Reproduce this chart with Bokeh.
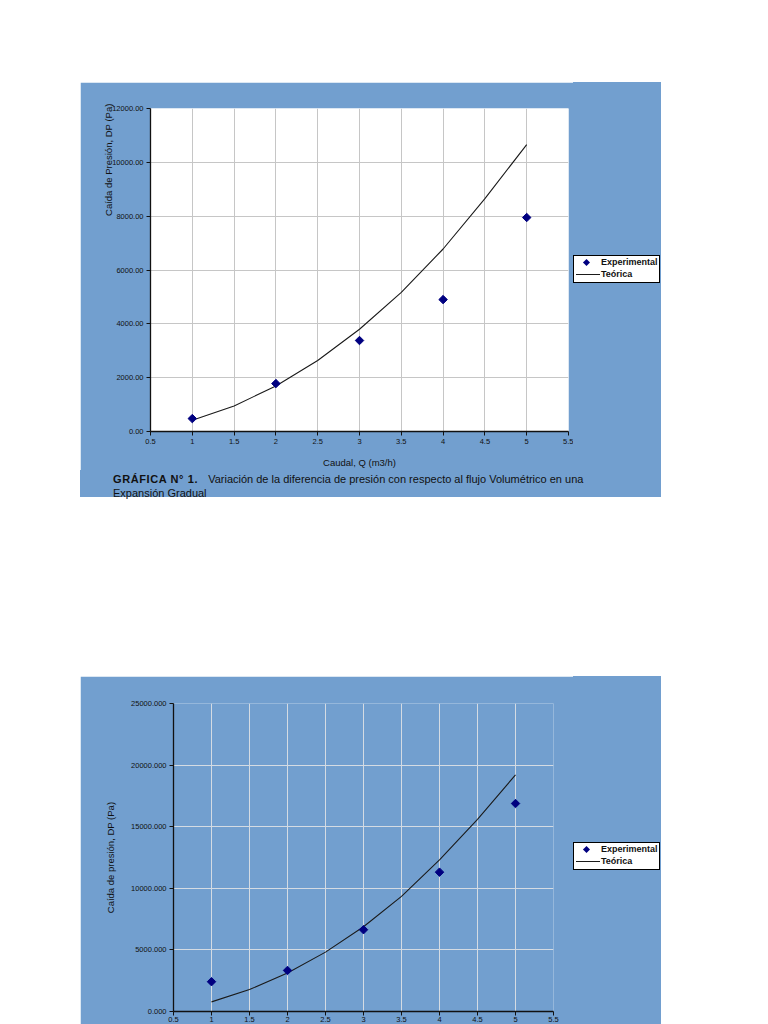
import numpy as np
from bokeh.plotting import figure
from bokeh.models import Range1d, Spacer, Title, Div
from bokeh.layouts import column, row
from bokeh.embed import file_html
from bokeh.resources import INLINE

# ---------------- data ----------------
q_exp = [1, 2, 3, 4, 5]
q_theo = [1, 1.5, 2, 2.5, 3, 3.5, 4, 4.5, 5]

dp_exp_1 = [480, 1780, 3380, 4900, 7950]
dp_theo_1 = [420, 950, 1690, 2640, 3800, 5170, 6780, 8650, 10660]

dp_exp_2 = [2420, 3330, 6640, 11310, 16880]
dp_theo_2 = [780, 1780, 3120, 4820, 6880, 9350, 12300, 15600, 19200]

x_ticks = [0.5, 1, 1.5, 2, 2.5, 3, 3.5, 4, 4.5, 5, 5.5]
x_tick_labels = ["0.5", "1", "1.5", "2", "2.5", "3", "3.5", "4", "4.5", "5", "5.5"]

y_ticks_1 = [0, 2000, 4000, 6000, 8000, 10000, 12000]
y_tick_labels_1 = ["0.00", "2000.00", "4000.00", "6000.00", "8000.00", "10000.00", "12000.00"]

y_ticks_2 = [0, 5000, 10000, 15000, 20000, 25000]
y_tick_labels_2 = ["0.000", "5000.000", "10000.000", "15000.000", "20000.000", "25000.000"]

series_names = ["Experimental", "Teórica"]

BLUE = "#729fcf"
FONT = "Liberation Sans"
MARK = "#000080"
LINE = "#1a1a1a"


def make_chart(dp_exp, dp_theo, y_ticks, y_labels, ymax, frame_bg, grid_color,
               width, height, bl, br, bt, bb):
    p = figure(width=width, height=height, output_backend="svg", toolbar_location=None,
               x_range=Range1d(0.5, 5.5), y_range=Range1d(0, ymax),
               min_border_left=bl, min_border_right=br, min_border_top=bt, min_border_bottom=bb)
    p.border_fill_color = BLUE
    p.background_fill_color = frame_bg
    p.outline_line_color = None

    p.xaxis.ticker = x_ticks
    p.xaxis.major_label_overrides = {t: l for t, l in zip(x_ticks, x_tick_labels)}
    p.yaxis.ticker = y_ticks
    p.yaxis.major_label_overrides = {t: l for t, l in zip(y_ticks, y_labels)}
    for ax in (p.xaxis, p.yaxis):
        ax.axis_line_color = "#111111"
        ax.axis_line_width = 1.3
        ax.major_tick_line_color = "#111111"
        ax.major_tick_out = 4
        ax.major_tick_in = 0
        ax.minor_tick_line_color = None
        ax.major_label_text_font = FONT
        ax.major_label_text_font_size = "7.5px"
        ax.major_label_text_color = "#111111"
        ax.major_label_standoff = 3
        ax.axis_label_text_font = FONT
        ax.axis_label_text_font_style = "normal"
        ax.axis_label_text_color = "#111111"
    p.xgrid.grid_line_color = grid_color
    p.ygrid.grid_line_color = grid_color

    p.line(q_theo, dp_theo, line_color=LINE, line_width=1.1)
    p.scatter(q_exp, dp_exp, marker="square", angle=np.pi / 4, size=6,
              fill_color=MARK, line_color=MARK)
    return p


def legend_panel(height, box_top):
    html = (
        f"<div style=\"padding-top:{box_top}px; margin:0;\">"
        "<div style=\"position:relative; margin:0; width:87px; height:28px; "
        "box-sizing:border-box; border:1px solid #000; background:#fff; "
        "font-family:'Liberation Sans'; font-size:9px; font-weight:bold; color:#111; line-height:11px;\">"
        f"<span style=\"position:absolute; left:10px; top:4px; width:5px; height:5px; "
        f"background:{MARK}; transform:rotate(45deg);\"></span>"
        f"<span style=\"position:absolute; left:27px; top:1px; white-space:nowrap;\">{series_names[0]}</span>"
        f"<span style=\"position:absolute; left:2px; top:18px; width:24px; height:0; "
        f"border-top:1px solid {LINE};\"></span>"
        f"<span style=\"position:absolute; left:27px; top:13px; white-space:nowrap;\">{series_names[1]}</span>"
        "</div></div>")
    return Div(text=html, width=88, height=height,
               styles={"background-color": BLUE, "margin": "0", "padding": "0"})


# ---------- chart 1 ----------
p1 = make_chart(dp_exp_1, dp_theo_1, y_ticks_1, y_tick_labels_1, 12000, "white", "#c6c6c6",
                493, 388, 70, 5, 26, 39)
p1.xaxis.axis_label = "Caudal, Q (m3/h)"
p1.xaxis.axis_label_text_font_size = "9.5px"
p1.xaxis.axis_label_standoff = 10
p1.add_layout(Title(text="Caída de Presión, DP (Pa)", align="right", offset=-5, standoff=-9,
                    text_font=FONT, text_font_size="9.5px", text_font_style="normal",
                    text_color="#111111"), "left")
leg1 = legend_panel(388, 173)

caption = Div(
    text=("<div style=\"font-family:'Liberation Sans'; font-size:11px; line-height:14px; "
          "color:#111111; padding:2px 0 0 33px; margin:0; white-space:nowrap;\">"
          "<span style=\"font-weight:bold; letter-spacing:0.6px;\">GRÁFICA N° 1.</span>"
          "<span style=\"margin-left:10px;\">"
          "Variación de la diferencia de presión con respecto al flujo Volumétrico en una</span><br>"
          "Expansión Gradual</div>"),
    width=581, height=27, styles={"background-color": BLUE, "margin": "0", "padding": "0"})

# ---------- chart 2 ----------
p2 = make_chart(dp_exp_2, dp_theo_2, y_ticks_2, y_tick_labels_2, 25000, BLUE, "#d4dbe3",
                493, 348, 93, 20, 27, 10)
p2.xaxis.major_label_standoff = 1
p2.yaxis.axis_label = "Caída de presión, DP (Pa)"
p2.yaxis.axis_label_text_font_size = "9.5px"
p2.yaxis.axis_label_standoff = 12
leg2 = legend_panel(348, 166)

layout = column(
    Spacer(height=82),
    row(Spacer(width=80), column(row(p1, leg1), caption)),
    Spacer(height=179),
    row(Spacer(width=80), p2, leg2),
)

open("out.html", "w").write(file_html(layout, INLINE))
